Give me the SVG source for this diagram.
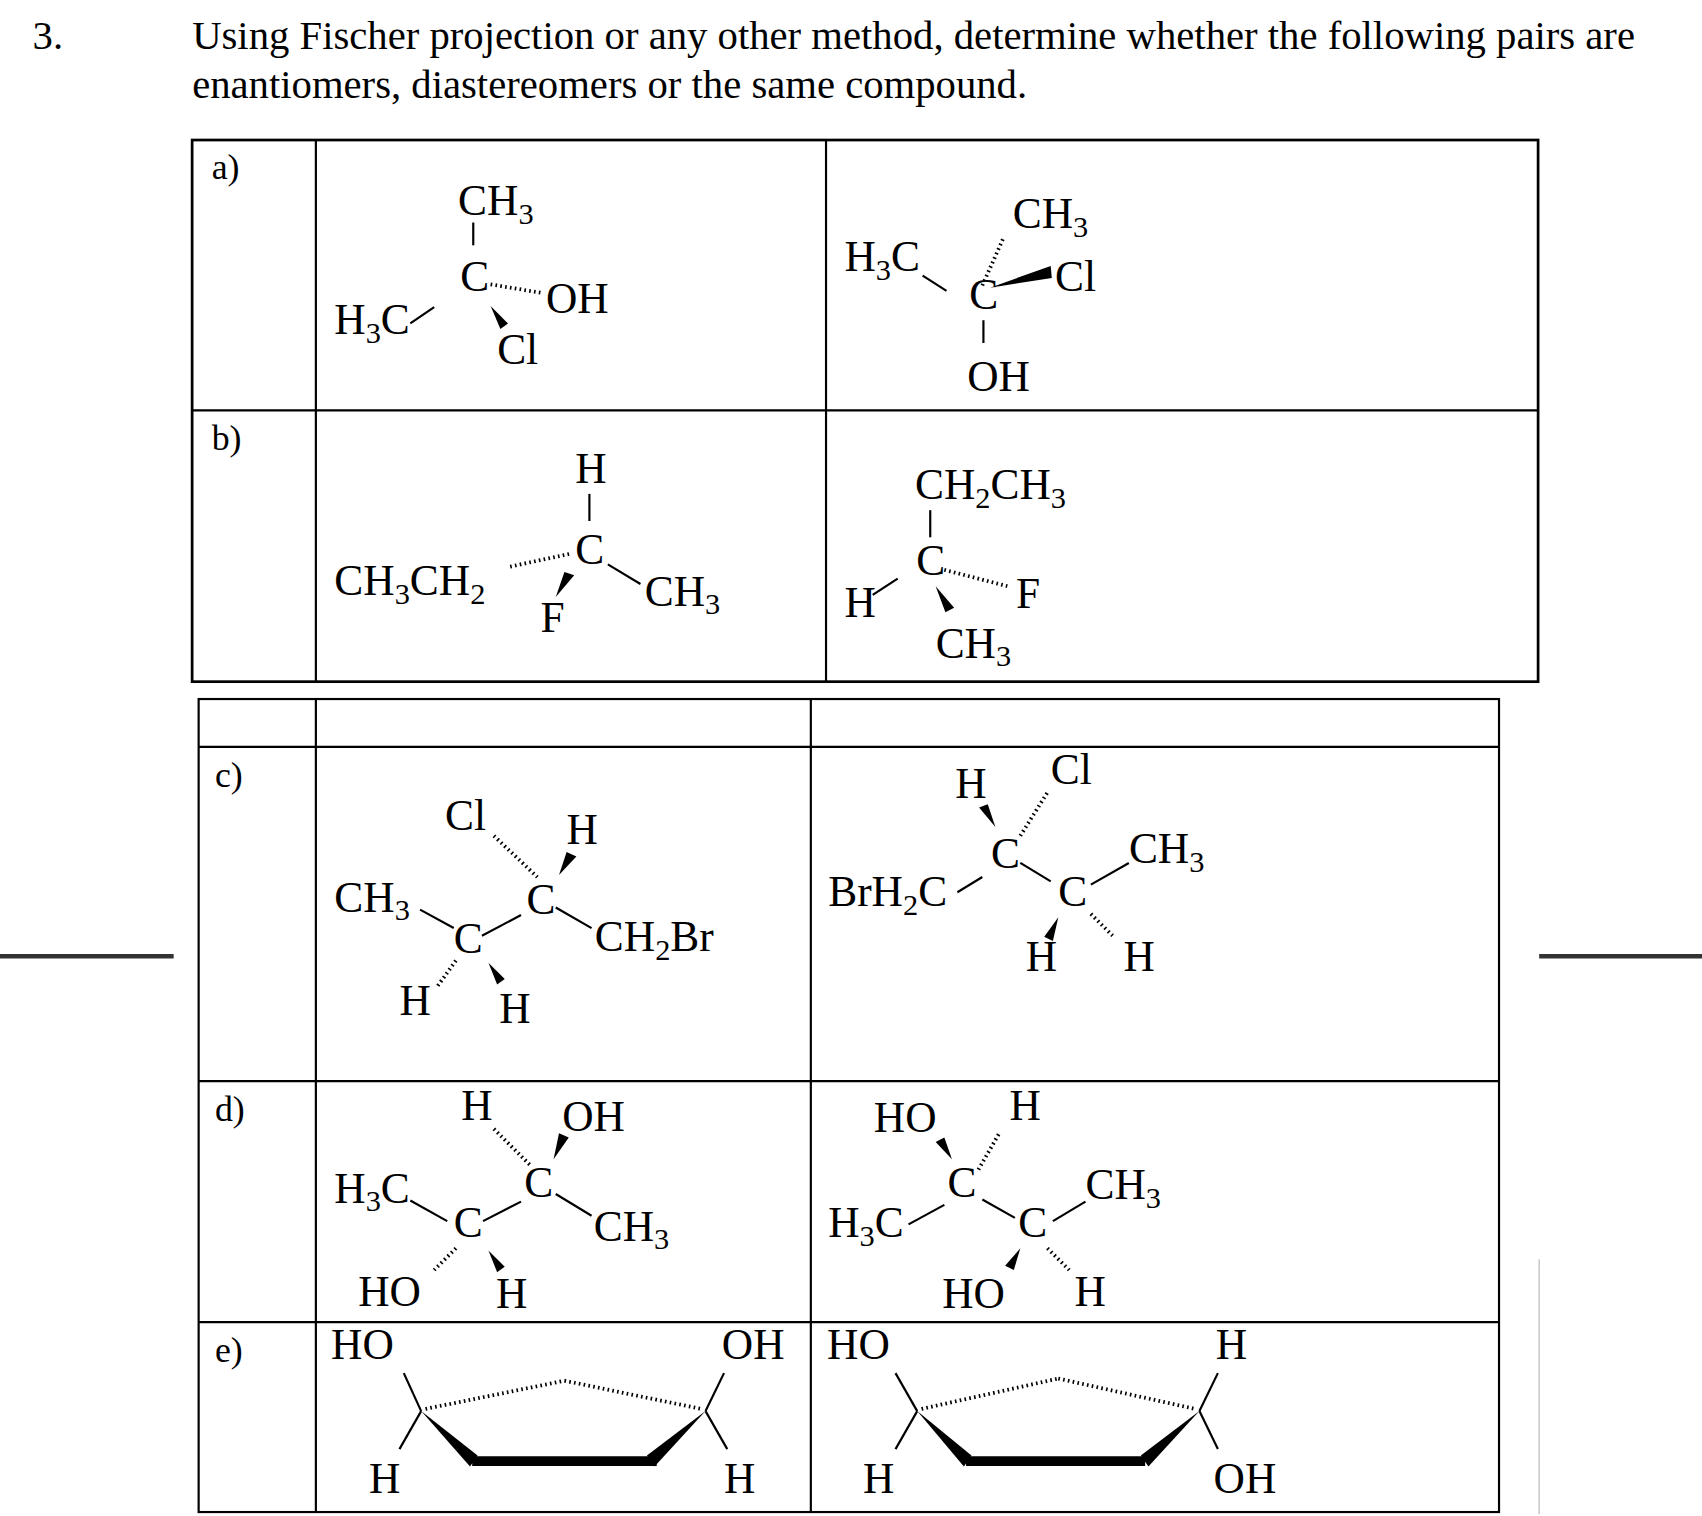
<svg xmlns="http://www.w3.org/2000/svg" width="1702" height="1516" viewBox="0 0 1702 1516">
<style>
text{font-family:"Liberation Serif","Times New Roman",serif;fill:#000}
.h{font-size:37.5px}
.m{font-size:40px}
.s{font-size:28px}
.l{font-size:33px}
.g{stroke:#000;stroke-width:2.5;fill:none}
.t{stroke:#000;stroke-width:2;fill:none}
.b{stroke:#000;stroke-width:2;fill:none}
.d{stroke:#000;stroke-width:3.5;fill:none;stroke-dasharray:1.5 3}
.w{fill:#000}
</style>
<rect width="1702" height="1516" fill="#fff"/>
<g transform="scale(1.08546)">
<g id="header">
<text class="h" x="30" y="45">3.</text>
<text class="h" x="177" y="45">Using Fischer projection or any other method, determine whether the following pairs are</text>
<text class="h" x="177" y="90">enantiomers, diastereomers or the same compound.</text>
</g>
<g id="tables">
<rect class="g" x="177" y="129" width="1240" height="499"/>
<line class="t" x1="291" y1="129" x2="291" y2="628"/>
<line class="t" x1="761" y1="129" x2="761" y2="628"/>
<line class="t" x1="177" y1="378" x2="1417" y2="378"/>
<rect class="t" x="183" y="644" width="1198" height="749"/>
<line class="t" x1="291" y1="644" x2="291" y2="1393"/>
<line class="t" x1="747" y1="644" x2="747" y2="1393"/>
<line class="t" x1="183" y1="688" x2="1381" y2="688"/>
<line class="t" x1="183" y1="996" x2="1381" y2="996"/>
<line class="t" x1="183" y1="1218" x2="1381" y2="1218"/>
<line x1="0" y1="881" x2="160" y2="881" stroke="#333" stroke-width="4"/>
<line x1="1418" y1="881" x2="1568" y2="881" stroke="#333" stroke-width="4"/>
<line x1="1418" y1="1160" x2="1418" y2="1395" stroke="#ccc" stroke-width="1.5"/>
<text class="l" x="195" y="165">a)</text>
<text class="l" x="195" y="415">b)</text>
<text class="l" x="198" y="725">c)</text>
<text class="l" x="198" y="1033">d)</text>
<text class="l" x="198" y="1255">e)</text>
</g>
<g id="connectors">
<line class="b" x1="436" y1="205" x2="436" y2="226"/>
<line class="d" x1="452" y1="262" x2="500" y2="270"/>
<line class="b" x1="378" y1="298" x2="400" y2="283"/>
<polygon class="w" points="452,282 468,298 461,303"/>
<line class="b" x1="850" y1="254" x2="872" y2="268"/>
<line class="d" x1="905" y1="263" x2="925" y2="218"/>
<polygon class="w" points="912,265 968,245 969,256"/>
<line class="b" x1="906" y1="295" x2="906" y2="316"/>
<line class="b" x1="543" y1="455" x2="543" y2="480"/>
<line class="d" x1="470" y1="522" x2="526" y2="510"/>
<line class="b" x1="560" y1="520" x2="590" y2="538"/>
<polygon class="w" points="520,527 529,530 512,550"/>
<line class="b" x1="857" y1="470" x2="857" y2="495"/>
<line class="d" x1="870" y1="525" x2="928" y2="540"/>
<line class="b" x1="804" y1="548" x2="827" y2="533"/>
<polygon class="w" points="862,540 879,560 871,564"/>
<line class="d" x1="455" y1="770" x2="495" y2="808"/>
<polygon class="w" points="522,785 531,789 515,806"/>
<line class="b" x1="387" y1="838" x2="418" y2="855"/>
<line class="b" x1="444" y1="862" x2="480" y2="843"/>
<line class="b" x1="512" y1="836" x2="545" y2="855"/>
<line class="d" x1="420" y1="885" x2="402" y2="910"/>
<polygon class="w" points="450,887 465,902 458,907"/>
<polygon class="w" points="902,744 910,741 917,762"/>
<line class="d" x1="940" y1="770" x2="965" y2="730"/>
<line class="b" x1="882" y1="822" x2="905" y2="808"/>
<line class="b" x1="940" y1="795" x2="968" y2="812"/>
<line class="b" x1="1005" y1="815" x2="1040" y2="795"/>
<polygon class="w" points="975,845 970,867 962,863"/>
<line class="d" x1="1005" y1="842" x2="1025" y2="862"/>
<line class="d" x1="455" y1="1040" x2="490" y2="1075"/>
<polygon class="w" points="515,1044 524,1048 510,1068"/>
<line class="b" x1="378" y1="1106" x2="412" y2="1125"/>
<line class="b" x1="445" y1="1125" x2="480" y2="1107"/>
<line class="b" x1="512" y1="1100" x2="545" y2="1120"/>
<line class="d" x1="420" y1="1150" x2="400" y2="1170"/>
<polygon class="w" points="450,1152 465,1167 458,1172"/>
<polygon class="w" points="862,1052 870,1048 877,1068"/>
<line class="d" x1="920" y1="1045" x2="900" y2="1080"/>
<line class="b" x1="837" y1="1128" x2="870" y2="1110"/>
<line class="b" x1="905" y1="1105" x2="935" y2="1122"/>
<line class="b" x1="970" y1="1125" x2="1000" y2="1107"/>
<polygon class="w" points="940,1150 934,1170 926,1166"/>
<line class="d" x1="965" y1="1150" x2="985" y2="1170"/>
<line class="b" x1="372" y1="1265" x2="388" y2="1300"/>
<line class="b" x1="388" y1="1300" x2="368" y2="1335"/>
<line class="b" x1="667" y1="1265" x2="650" y2="1300"/>
<line class="b" x1="650" y1="1300" x2="670" y2="1335"/>
<polygon class="w" points="388,1300 440,1341 433,1351"/>
<line x1="435" y1="1346" x2="605" y2="1346" stroke="#000" stroke-width="9"/>
<polygon class="w" points="650,1300 603,1351 596,1341"/>
<line class="d" x1="392" y1="1298" x2="520" y2="1272"/>
<line class="d" x1="520" y1="1272" x2="646" y2="1298"/>
<line class="b" x1="825" y1="1265" x2="845" y2="1300"/>
<line class="b" x1="845" y1="1300" x2="825" y2="1335"/>
<line class="b" x1="1122" y1="1265" x2="1105" y2="1300"/>
<line class="b" x1="1105" y1="1300" x2="1122" y2="1335"/>
<polygon class="w" points="845,1300 895,1341 888,1351"/>
<line x1="890" y1="1346" x2="1055" y2="1346" stroke="#000" stroke-width="9"/>
<polygon class="w" points="1105,1300 1058,1351 1051,1341"/>
<line class="d" x1="849" y1="1298" x2="975" y2="1270"/>
<line class="d" x1="975" y1="1270" x2="1101" y2="1298"/>
</g>
<g id="a-left">
<text class="m" x="422" y="198">CH<tspan class="s" dy="8">3</tspan></text>
<text class="m" x="424" y="268">C</text>
<text class="m" x="503" y="288">OH</text>
<text class="m" x="308" y="308">H<tspan class="s" dy="8">3</tspan><tspan dy="-8">C</tspan></text>
<text class="m" x="458" y="335">Cl</text>
</g>
<g id="a-right">
<text class="m" x="933" y="210">CH<tspan class="s" dy="8">3</tspan></text>
<text class="m" x="778" y="250">H<tspan class="s" dy="8">3</tspan><tspan dy="-8">C</tspan></text>
<text class="m" x="893" y="285">C</text>
<text class="m" x="972" y="268">Cl</text>
<text class="m" x="891" y="360">OH</text>
</g>
<g id="b-left">
<text class="m" x="530" y="445">H</text>
<text class="m" x="530" y="520">C</text>
<text class="m" x="308" y="548">CH<tspan class="s" dy="8">3</tspan><tspan dy="-8">CH</tspan><tspan class="s" dy="8">2</tspan></text>
<text class="m" x="594" y="558">CH<tspan class="s" dy="8">3</tspan></text>
<text class="m" x="498" y="582">F</text>
</g>
<g id="b-right">
<text class="m" x="843" y="460">CH<tspan class="s" dy="8">2</tspan><tspan dy="-8">CH</tspan><tspan class="s" dy="8">3</tspan></text>
<text class="m" x="844" y="530">C</text>
<text class="m" x="936" y="560">F</text>
<text class="m" x="778" y="568">H</text>
<text class="m" x="862" y="606">CH<tspan class="s" dy="8">3</tspan></text>
</g>
<g id="c-left">
<text class="m" x="410" y="765">Cl</text>
<text class="m" x="522" y="778">H</text>
<text class="m" x="485" y="842">C</text>
<text class="m" x="308" y="840">CH<tspan class="s" dy="8">3</tspan></text>
<text class="m" x="418" y="878">C</text>
<text class="m" x="548" y="876">CH<tspan class="s" dy="8">2</tspan><tspan dy="-8">Br</tspan></text>
<text class="m" x="368" y="935">H</text>
<text class="m" x="460" y="942">H</text>
</g>
<g id="c-right">
<text class="m" x="880" y="735">H</text>
<text class="m" x="968" y="722">Cl</text>
<text class="m" x="913" y="800">C</text>
<text class="m" x="763" y="835">BrH<tspan class="s" dy="8">2</tspan><tspan dy="-8">C</tspan></text>
<text class="m" x="975" y="835">C</text>
<text class="m" x="1040" y="795">CH<tspan class="s" dy="8">3</tspan></text>
<text class="m" x="945" y="895">H</text>
<text class="m" x="1035" y="895">H</text>
</g>
<g id="d-left">
<text class="m" x="425" y="1032">H</text>
<text class="m" x="518" y="1042">OH</text>
<text class="m" x="483" y="1103">C</text>
<text class="m" x="308" y="1108">H<tspan class="s" dy="8">3</tspan><tspan dy="-8">C</tspan></text>
<text class="m" x="418" y="1140">C</text>
<text class="m" x="547" y="1143">CH<tspan class="s" dy="8">3</tspan></text>
<text class="m" x="330" y="1203">HO</text>
<text class="m" x="457" y="1205">H</text>
</g>
<g id="d-right">
<text class="m" x="805" y="1043">HO</text>
<text class="m" x="930" y="1032">H</text>
<text class="m" x="873" y="1103">C</text>
<text class="m" x="763" y="1140">H<tspan class="s" dy="8">3</tspan><tspan dy="-8">C</tspan></text>
<text class="m" x="938" y="1140">C</text>
<text class="m" x="1000" y="1105">CH<tspan class="s" dy="8">3</tspan></text>
<text class="m" x="868" y="1205">HO</text>
<text class="m" x="990" y="1203">H</text>
</g>
<g id="e-left">
<text class="m" x="305" y="1252">HO</text>
<text class="m" x="665" y="1252">OH</text>
<text class="m" x="340" y="1375">H</text>
<text class="m" x="667" y="1375">H</text>
</g>
<g id="e-right">
<text class="m" x="762" y="1252">HO</text>
<text class="m" x="1120" y="1252">H</text>
<text class="m" x="795" y="1375">H</text>
<text class="m" x="1118" y="1375">OH</text>
</g>
</g>
</svg>
